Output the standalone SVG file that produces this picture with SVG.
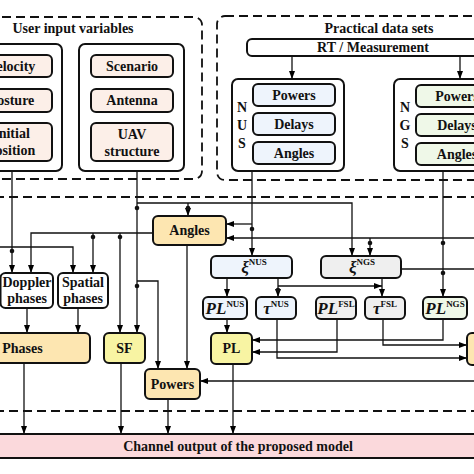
<svg xmlns="http://www.w3.org/2000/svg" width="474" height="474" viewBox="0 0 474 474">
<defs>
<marker id="ah" markerWidth="8" markerHeight="6" refX="8" refY="3" orient="auto" markerUnits="userSpaceOnUse"><path d="M0,0 L8,3 L0,6 z" fill="#000"/></marker>
<style>
text{font-family:"Liberation Serif","Times New Roman",serif;font-weight:bold;font-size:14px;fill:#111;text-anchor:middle}
.box{stroke:#111;stroke-width:2}
.cont{fill:#fff;stroke:#111;stroke-width:2}
.dash{fill:none;stroke:#111;stroke-width:1.8;stroke-dasharray:9 5}
.in{fill:#fcefe8}
.nus{fill:#eef4fc}
.ngs{fill:#eff8e8}
.gray{fill:#efefef}
.org{fill:#fde6b1}
.yel{fill:#f8f4a3}
.pink{fill:#fbd9dc}
.c path{fill:none;stroke:#111;stroke-width:1.3;marker-end:url(#ah)}
.c path.nm{marker-end:none}
.dot{fill:#111}
.it{font-style:italic;font-size:17px}
.sup{font-size:9px}
</style>
</defs>
<rect width="474" height="474" fill="#fff"/>

<g id="user-input">
<rect class="dash" x="-20" y="17" width="222" height="162" rx="8"/>
<text x="73" y="33">User input variables</text>
<rect class="cont" x="-40" y="44" width="102" height="127" rx="6"/>
<rect class="cont" x="79" y="44" width="105" height="127" rx="6"/>
</g>
<g id="velocity"><rect class="box in" x="-29" y="55" width="81" height="22" rx="5"/><text x="11.5" y="71">Velocity</text></g>
<g id="posture"><rect class="box in" x="-29" y="89" width="81" height="23" rx="5"/><text x="11.5" y="105">Posture</text></g>
<g id="initial-position"><rect class="box in" x="-29" y="123" width="81" height="38" rx="5"/><text x="11.5" y="138">Initial</text><text x="11.5" y="155">position</text></g>
<g id="scenario"><rect class="box in" x="91" y="55" width="82" height="22" rx="5"/><text x="132" y="71">Scenario</text></g>
<g id="antenna"><rect class="box in" x="91" y="89" width="82" height="23" rx="5"/><text x="132" y="105">Antenna</text></g>
<g id="uav-structure"><rect class="box in" x="91" y="123" width="82" height="38" rx="5"/><text x="132" y="139">UAV</text><text x="132" y="156">structure</text></g>

<g id="practical">
<rect class="dash" x="217" y="16" width="300" height="164" rx="8"/>
<text x="379" y="33">Practical data sets</text>
</g>
<g id="rt-measurement"><rect class="box" fill="#fff" x="247" y="39" width="260" height="17" rx="5"/><text x="373" y="52">RT / Measurement</text></g>
<g id="nus">
<rect class="cont" x="232" y="79" width="112" height="92" rx="6"/>
<text x="242" y="112">N</text><text x="242" y="130">U</text><text x="242" y="148">S</text>
<rect class="box nus" x="253" y="84" width="82" height="22" rx="5"/><text x="294" y="100">Powers</text>
<rect class="box nus" x="253" y="113" width="82" height="22" rx="5"/><text x="294" y="129">Delays</text>
<rect class="box nus" x="253" y="142" width="82" height="22" rx="5"/><text x="294" y="158">Angles</text>
</g>
<g id="ngs">
<rect class="cont" x="394" y="79" width="120" height="92" rx="6"/>
<text x="405" y="112">N</text><text x="405" y="130">G</text><text x="405" y="148">S</text>
<rect class="box ngs" x="416" y="85" width="82" height="22" rx="5"/><text x="457" y="101">Powers</text>
<rect class="box ngs" x="416" y="114" width="82" height="22" rx="5"/><text x="457" y="130">Delays</text>
<rect class="box ngs" x="416" y="143" width="82" height="22" rx="5"/><text x="457" y="159">Angles</text>
</g>

<g id="model-frame">
<line class="dash" x1="-5" y1="197" x2="480" y2="197"/>
<line class="dash" x1="-5" y1="411" x2="480" y2="411"/>
</g>

<g class="c" id="connectors">
<path d="M292,56 V79"/>
<path d="M460,56 V79"/>
<path d="M12,171 V273"/>
<path d="M137,171 V333"/>
<path d="M137,203 H352 V256"/>
<path d="M188,203 V216"/>
<path d="M153,233 H31 V273"/>
<path d="M93,233 V273"/>
<path d="M120,233 V333"/>
<path d="M0,247 H73 V273"/>
<path d="M27,308 V333"/>
<path d="M78,308 V333"/>
<path d="M137,281 H158 V369"/>
<path d="M187,245 V369"/>
<path d="M24,363 V434"/>
<path d="M121,363 V434"/>
<path d="M168,399 V434"/>
<path d="M233,364 V434"/>
<path d="M252,171 V256"/>
<path d="M252,224 H226"/>
<path d="M476,238 H226"/>
<path d="M370,238 V256"/>
<path d="M443,171 V297"/>
<path class="nm" d="M401,269 H476"/>
<path d="M227,278 V297"/>
<path d="M278,278 V297"/>
<path d="M278,286 H382"/>
<path d="M382,278 V297"/>
<path d="M227,319 V333"/>
<path d="M277,319 V358 H467"/>
<path d="M337,319 V352 H252"/>
<path d="M383,319 V345 H467"/>
<path d="M443,319 V340 H252"/>
<path d="M476,381 H200"/>
<circle class="dot" cx="137" cy="208" r="2.3"/>
<circle class="dot" cx="188" cy="208" r="2.3"/>
<circle class="dot" cx="252" cy="229" r="2.3"/>
<circle class="dot" cx="370" cy="243" r="2.3"/>
<circle class="dot" cx="443" cy="243" r="2.3"/>
<circle class="dot" cx="443" cy="273" r="2.3"/>
<circle class="dot" cx="278" cy="290" r="2.3"/>
<circle class="dot" cx="12" cy="251" r="2.3"/>
<circle class="dot" cx="93" cy="237" r="2.3"/>
<circle class="dot" cx="120" cy="237" r="2.3"/>
<circle class="dot" cx="137" cy="286" r="2.3"/>
</g>

<g id="angles"><rect class="box org" x="153" y="216" width="73" height="29" rx="5"/><text x="189.5" y="235">Angles</text></g>
<g id="doppler"><rect class="box" fill="#fff" x="0.5" y="273" width="52.5" height="35" rx="5"/><text x="27" y="287">Doppler</text><text x="27" y="303">phases</text></g>
<g id="spatial"><rect class="box" fill="#fff" x="58" y="273" width="50" height="35" rx="5"/><text x="83" y="287">Spatial</text><text x="83" y="303">phases</text></g>
<g id="phases"><rect class="box org" x="-45" y="333" width="135" height="30" rx="5"/><text x="22.5" y="353">Phases</text></g>
<g id="sf"><rect class="box yel" x="104" y="333" width="41" height="30" rx="5"/><text x="124.5" y="353">SF</text></g>
<g id="pl"><rect class="box yel" x="211" y="333" width="41" height="31" rx="5"/><text x="231.5" y="353">PL</text></g>
<g id="powers"><rect class="box org" x="145" y="369" width="55" height="30" rx="5"/><text x="172.5" y="389">Powers</text></g>
<g id="right-box"><rect class="box org" x="467" y="333" width="40" height="32" rx="5"/></g>

<g id="xi-nus"><rect class="box nus" x="211" y="256" width="81" height="22" rx="5"/><text x="254" y="273"><tspan class="it">ξ</tspan><tspan class="sup" dy="-8">NUS</tspan></text></g>
<g id="xi-ngs"><rect class="box gray" x="321" y="256" width="80" height="22" rx="5"/><text x="362" y="273"><tspan class="it">ξ</tspan><tspan class="sup" dy="-8">NGS</tspan></text></g>
<g id="pl-nus"><rect class="box nus" x="203" y="297" width="44" height="22" rx="5"/><text x="225" y="314"><tspan class="it">PL</tspan><tspan class="sup" dy="-7">NUS</tspan></text></g>
<g id="tau-nus"><rect class="box nus" x="256" y="297" width="40" height="22" rx="5"/><text x="276" y="314"><tspan class="it">τ</tspan><tspan class="sup" dy="-7">NUS</tspan></text></g>
<g id="pl-fsl"><rect class="box gray" x="316" y="297" width="40" height="22" rx="5"/><text x="336" y="314"><tspan class="it">PL</tspan><tspan class="sup" dy="-7">FSL</tspan></text></g>
<g id="tau-fsl"><rect class="box gray" x="365" y="297" width="40" height="22" rx="5"/><text x="385" y="314"><tspan class="it">τ</tspan><tspan class="sup" dy="-7">FSL</tspan></text></g>
<g id="pl-ngs"><rect class="box ngs" x="423" y="297" width="44" height="22" rx="5"/><text x="445" y="314"><tspan class="it">PL</tspan><tspan class="sup" dy="-7">NGS</tspan></text></g>

<g id="channel-output"><rect class="box pink" x="-10" y="434" width="494" height="24"/><text x="238" y="451">Channel output of the proposed model</text></g>
</svg>
